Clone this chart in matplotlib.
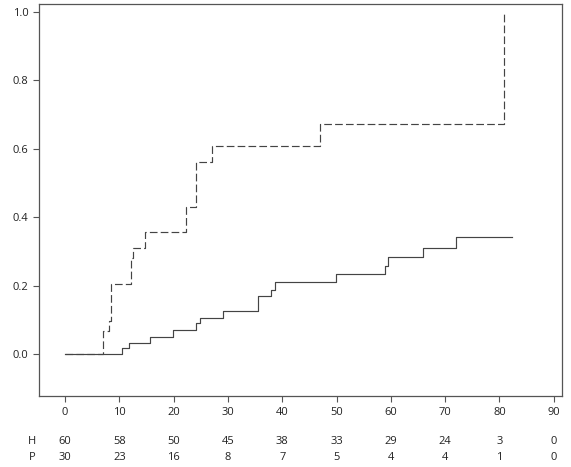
import matplotlib
matplotlib.use("Agg")
import matplotlib.pyplot as plt

# Cumulative incidence steps
h_time = [0, 10.4, 11.85, 15.65, 19.85, 24.1, 24.8, 29.0, 35.6, 38.0, 38.6,
          49.95, 59.0, 59.4, 66.0, 72.0, 82.4]
h_inc = [0, 0.016, 0.033, 0.049, 0.071, 0.089, 0.104, 0.126, 0.169, 0.187,
         0.210, 0.233, 0.256, 0.282, 0.309, 0.343, 0.343]

p_time = [0, 7.05, 8.1, 8.45, 12.15, 12.6, 14.7, 22.2, 24.1, 27.0, 47.0, 80.9]
p_inc = [0, 0.067, 0.097, 0.205, 0.28, 0.311, 0.356, 0.431, 0.562, 0.609,
         0.672, 1.0]

# Numbers at risk
risk_times = [0, 10, 20, 30, 40, 50, 60, 70, 80, 90]
risk_h = [60, 58, 50, 45, 38, 33, 29, 24, 3, 0]
risk_p = [30, 23, 16, 8, 7, 5, 4, 4, 1, 0]

plt.rcParams["font.family"] = ["Open Sans", "DejaVu Sans"]

fig = plt.figure(figsize=(5.71, 4.67), dpi=100)
ax = fig.add_axes([0.0683, 0.152, 0.9157, 0.8394])

line_col = "#444444"
ax.step(h_time, h_inc, where="post", color=line_col, lw=0.85)
ax.step(p_time, p_inc, where="post", color=line_col, lw=0.85,
        dashes=(6.5, 2.7))

ax.set_xlim(-4.8, 91.5)
ax.set_ylim(-0.123, 1.023)
ax.set_xticks(risk_times)
ax.set_yticks([0.0, 0.2, 0.4, 0.6, 0.8, 1.0])
ax.set_yticklabels(["0.0", "0.2", "0.4", "0.6", "0.8", "1.0"])

for s in ax.spines.values():
    s.set_color("#555555")
    s.set_linewidth(0.9)
ax.tick_params(direction="out", length=4, width=0.8, color="#555555",
               labelsize=8, labelcolor="#222222")
ax.tick_params(axis="x", pad=4)

# Risk table under the axis
trans = ax.get_xaxis_transform()
for row, vals, yf in (("H", risk_h, -0.115), ("P", risk_p, -0.156)):
    ax.text(-6.1, yf, row, transform=trans, ha="center", va="center",
            fontsize=8, color="#222222", clip_on=False)
    for t, v in zip(risk_times, vals):
        ax.text(t, yf, str(v), transform=trans, ha="center", va="center",
                fontsize=8, color="#222222", clip_on=False)

fig.savefig("out.png", dpi=100)
